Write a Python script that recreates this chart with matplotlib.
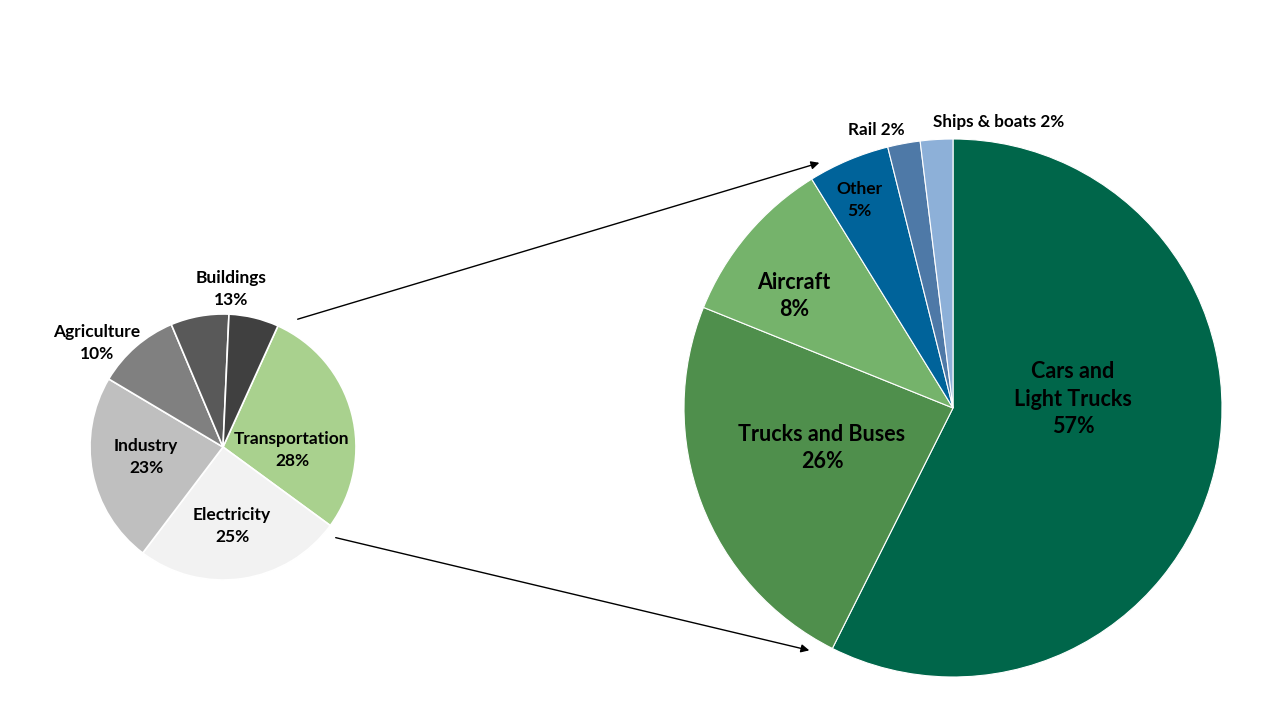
import matplotlib.pyplot as plt

# emissions by sector (left pie), buildings drawn as two slices
sectors = ['Transportation', 'Electricity', 'Industry', 'Agriculture', 'Buildings', 'Buildings']
sector_share = [28, 25, 23, 10, 7, 6]
sector_colors = ['#A9D18E', '#F2F2F2', '#BFBFBF', '#808080', '#595959', '#404040']

# transportation breakdown (right pie); slice sizes as drawn, labels as printed
modes = ['Cars and\nLight Trucks', 'Trucks and Buses', 'Aircraft', 'Other', 'Rail', 'Ships & boats']
mode_share = [57.4, 23.7, 10.1, 4.9, 1.95, 1.95]
mode_pct = [57, 26, 8, 5, 2, 2]
mode_colors = ['#00664A', '#4F8F4C', '#75B36B', '#00639A', '#4E79A7', '#8DB0D8']

plt.rcParams['font.family'] = ['Lato', 'DejaVu Sans']

fig = plt.figure(figsize=(12.8, 7.2), dpi=100)
ax = fig.add_axes([0, 0, 1, 1])
H = 720

ax.pie(sector_share, colors=sector_colors, center=(223, H - 447), radius=133,
       startangle=65.6, counterclock=False, normalize=True,
       wedgeprops=dict(edgecolor='white', linewidth=1.2))
ax.pie(mode_share, colors=mode_colors, center=(953, H - 408), radius=269,
       startangle=90, counterclock=False, normalize=True,
       wedgeprops=dict(edgecolor='white', linewidth=0.8))

ax.set_xlim(0, 1280)
ax.set_ylim(0, H)
ax.set_aspect('equal')
ax.axis('off')

# left pie labels
small_lbl = [
    ('Transportation\n28%', 292, 450),
    ('Electricity\n25%', 232, 526),
    ('Industry\n23%', 146, 457),
    ('Agriculture\n10%', 97, 343),
    ('Buildings\n13%', 231, 289),
]
for txt, x, y in small_lbl:
    ax.text(x, H - y, txt, ha='center', va='center', fontsize=12.5, fontweight='bold',
            linespacing=1.4, color='black')

# right pie labels
big_pos = [(1073, 399), (822, 448), (794, 296), (859, 200), (876, 130), (999, 122)]
for i, (name, val) in enumerate(zip(modes, mode_pct)):
    x, y = big_pos[i]
    if i < 3:
        txt = f'{name}\n{val}%'
        fs = 15.5
    elif i == 3:
        txt = f'{name}\n{val}%'
        fs = 12.5
    else:
        txt = f'{name} {val}%'
        fs = 12.3
    ax.text(x, H - y, txt, ha='center', va='center', fontsize=fs, fontweight='bold',
            linespacing=1.4, color='black')

# connector arrows
ax.annotate('', xy=(822, H - 162), xytext=(295, H - 320),
            arrowprops=dict(arrowstyle='-|>', color='black', lw=1, mutation_scale=12))
ax.annotate('', xy=(812, H - 651), xytext=(333, H - 537),
            arrowprops=dict(arrowstyle='-|>', color='black', lw=1, mutation_scale=12))

fig.savefig('out.png', dpi=100)
